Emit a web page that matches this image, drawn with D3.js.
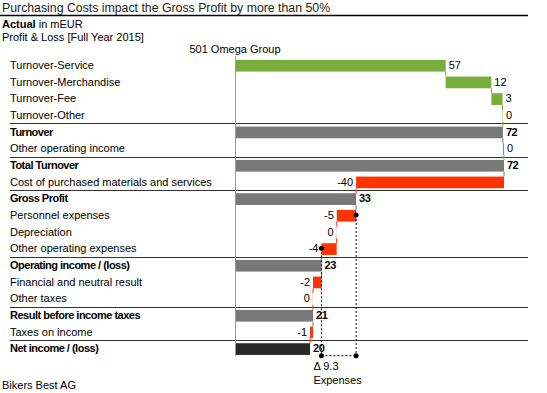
<!DOCTYPE html>
<html>
<head>
<meta charset="utf-8">
<script src="https://cdn.jsdelivr.net/npm/d3@7"></script>
<style>
  body { margin: 0; background: #fff; }
  svg text { font-family: "Liberation Sans", Arial, sans-serif; font-size: 11px; fill: #000; }
  .bold { font-weight: bold; letter-spacing: -0.5px; }
</style>
</head>
<body>
<svg id="chart" width="547" height="393"></svg>
<script>
// rows of the P&L statement
var rowLabels = ["Turnover-Service", "Turnover-Merchandise", "Turnover-Fee", "Turnover-Other",
    "Turnover", "Other operating income", "Total Turnover",
    "Cost of purchased materials and services", "Gross Profit",
    "Personnel expenses", "Depreciation", "Other operating expenses",
    "Operating income / (loss)", "Financial and neutral result", "Other taxes",
    "Result before income taxes", "Taxes on income", "Net income / (loss)"];
var rowValues = [56.7, 12.3, 3.0, 0.1, 72.1, 0.3, 72.4, -39.8, 32.6, -5.2, -0.04, -4.1,
    23.3, -2.3, -0.04, 21.0, -0.8, 20.2];
// d = delta, t = subtotal, n = net result
var rowKinds = ["d", "d", "d", "d", "t", "d", "t", "d", "t", "d", "d", "d", "t", "d", "d", "t", "d", "n"];
var expenseRows = [9, 11];
var expenseLabel = "Expenses";

var svg = d3.select("#chart");
var fmt = d3.formatLocale({decimal: ".", thousands: ",", grouping: [3], currency: ["", ""], minus: "-"}).format(".0f");
var fmt1 = d3.format(".1f");

var green = "#77ad3a", red = "#ff3300", grey = "#787878", dark = "#282828";

// running positions
var running = 0;
var rows = rowLabels.map(function (label, i) {
    var v = rowValues[i], kind = rowKinds[i], r = {label: label, value: v, kind: kind, index: i};
    if (kind === "d") {
        r.start = running;
        r.end = running + v;
        running = r.end;
        r.color = v >= 0 ? green : red;
    } else {
        r.start = 0;
        r.end = v;
        running = v;
        r.color = kind === "n" ? dark : grey;
    }
    return r;
});

var x = d3.scaleLinear().domain([0, d3.max(rows, function (d) { return Math.max(d.start, d.end); })])
    .range([235, 504]);
var y = d3.scaleBand().domain(d3.range(rows.length)).range([56.6, 356.6]);
var barTop = function (i) { return y(i) + 3.3; };
var barH = 11.7;
var mid = function (i) { return y(i) + y.bandwidth() / 2; };

// title
svg.append("text").attr("x", 2).attr("y", 12).style("font-size", "12.3px").style("fill", "#222")
    .text("Purchasing Costs impact the Gross Profit by more than 50%");
svg.append("line").attr("x1", 0).attr("x2", 528).attr("y1", 15.5).attr("y2", 15.5)
    .attr("stroke", "#000").attr("stroke-width", 1.5);

var sub = svg.append("text").attr("x", 2).attr("y", 28);
sub.append("tspan").attr("class", "bold").style("letter-spacing", "0").text("Actual");
sub.append("tspan").text(" in mEUR");
svg.append("text").attr("x", 2).attr("y", 41).text("Profit & Loss [Full Year 2015]");
svg.append("text").attr("x", x(0)).attr("y", 53).attr("text-anchor", "middle").text("501 Omega Group");

// separators above subtotals
svg.selectAll("line.sep").data(rows.filter(function (d) { return d.kind !== "d"; }))
    .enter().append("line").attr("class", "sep")
    .attr("x1", 10).attr("x2", 528)
    .attr("y1", function (d) { return Math.round(y(d.index)) + 0.5; })
    .attr("y2", function (d) { return Math.round(y(d.index)) + 0.5; })
    .attr("stroke", "#333").attr("stroke-width", 1);

// row labels
svg.selectAll("text.row").data(rows).enter().append("text")
    .attr("class", function (d) { return d.kind === "d" ? "row" : "row bold"; })
    .attr("x", 10)
    .attr("y", function (d) { return mid(d.index) + 4; })
    .text(function (d) { return d.label; });

// connectors
svg.selectAll("line.conn").data(rows.slice(1)).enter().append("line").attr("class", "conn")
    .attr("x1", function (d) { return x(rows[d.index - 1].end); })
    .attr("x2", function (d) { return x(rows[d.index - 1].end); })
    .attr("y1", function (d) { return barTop(d.index - 1) + barH; })
    .attr("y2", function (d) { return barTop(d.index); })
    .attr("stroke", function (d) { return rows[d.index - 1].color; })
    .attr("stroke-width", 1);

// bars
svg.selectAll("rect.bar").data(rows).enter().append("rect").attr("class", "bar")
    .attr("x", function (d) { return x(Math.min(d.start, d.end)); })
    .attr("width", function (d) { return Math.abs(x(d.end) - x(d.start)); })
    .attr("y", function (d) { return barTop(d.index); })
    .attr("height", barH)
    .attr("fill", function (d) { return d.color; });

// axis line
svg.append("line").attr("x1", x(0) + 0.5).attr("x2", x(0) + 0.5).attr("y1", 56).attr("y2", 356)
    .attr("stroke", "#999").attr("stroke-width", 1);

// value labels
svg.selectAll("text.val").data(rows).enter().append("text")
    .attr("class", function (d) { return d.kind === "d" ? "val" : "val bold"; })
    .attr("x", function (d) {
        if (d.kind !== "d") return x(d.end) + 3;
        return d.value >= 0 ? x(d.end) + 3 : x(d.end) - 3;
    })
    .attr("y", function (d) { return mid(d.index) + 4; })
    .attr("text-anchor", function (d) { return d.kind === "d" && d.value < 0 ? "end" : "start"; })
    .text(function (d) { return fmt(d.value); });

// expenses delta bracket
var first = rows[expenseRows[0]], last = rows[expenseRows[1]];
var delta = d3.sum(rows.slice(expenseRows[0], expenseRows[1] + 1), function (d) { return -d.value; });
var xa = x(first.start), xb = x(last.end);
var ya = mid(first.index), yb = mid(last.index), yBottom = 355.7;
var dotted = svg.append("g").attr("stroke", "#000").attr("stroke-width", 1).attr("stroke-dasharray", "2,2").attr("fill", "none");
dotted.append("line").attr("x1", xa).attr("x2", xa).attr("y1", ya).attr("y2", yBottom);
dotted.append("line").attr("x1", xb).attr("x2", xb).attr("y1", yb).attr("y2", yBottom);
dotted.append("line").attr("x1", xb).attr("x2", xa).attr("y1", yBottom).attr("y2", yBottom);
svg.selectAll("circle.dot").data([[xa, ya], [xb, yb], [xa, yBottom], [xb, yBottom]]).enter()
    .append("circle").attr("class", "dot")
    .attr("cx", function (d) { return d[0]; }).attr("cy", function (d) { return d[1]; })
    .attr("r", 2.5).attr("fill", "#000");
svg.append("text").attr("x", xb - 8).attr("y", 370).text("\u0394 " + fmt1(delta));
svg.append("text").attr("x", xb - 8).attr("y", 384).text(expenseLabel);

// footer
svg.append("text").attr("x", 2).attr("y", 389).text("Bikers Best AG");
</script>
</body>
</html>
